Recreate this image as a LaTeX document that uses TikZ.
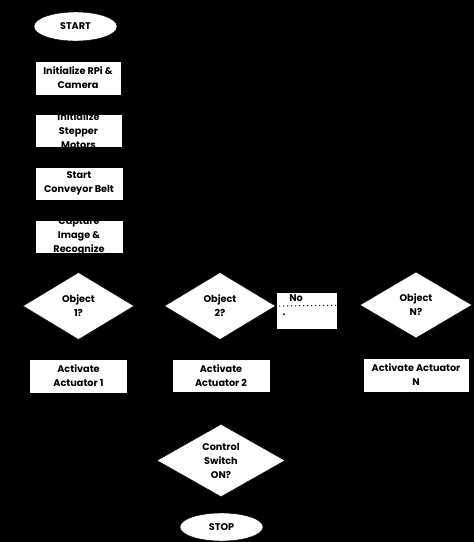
\documentclass[tikz,border=0pt]{standalone}
\usepackage{fontspec}
\setsansfont{Poppins}
\usetikzlibrary{shapes.geometric, positioning, arrows.meta}

\tikzset{
  txt/.style={font=\sffamily\bfseries\fontsize{9.7}{14}\selectfont, align=center, text=black},
  term/.style={ellipse, draw=black, fill=white, minimum width=83pt, minimum height=29pt, inner sep=0pt, txt},
  proc/.style={rectangle, draw=black, fill=white, minimum width=88pt, minimum height=34pt, inner sep=0pt, txt},
  decide/.style={diamond, draw=black, fill=white, inner sep=0pt, minimum width=111pt, minimum height=67pt, txt},
  flow/.style={draw=black, -{Stealth[length=5pt]}},
  dots/.style={draw=black, line width=1.4pt, line cap=round, dash pattern=on 0pt off 4pt},
}

\begin{document}
\begin{tikzpicture}[x=1pt, y=-1pt]
        \fill[black] (0,0) rectangle (474,542);
        \useasboundingbox (0,0) rectangle (474,542);

        % main column
        \node[term] (start) at (75.5,26.5) {START};
        \node[proc, minimum width=86pt] (initcam) at (78,78) {Initialize RPi \&\\Camera};
        \node[proc, minimum width=87pt, minimum height=33pt] (initmot) at (78.5,130.5) {};
        \node[txt] (initmottxt) at (initmot) {Initialize\\Stepper\\Motors};
        \node[proc, minimum height=33pt] (belt) at (79,183.5) {Start\\Conveyor Belt};
        \node[proc, minimum height=33pt] (capture) at (79,236.5) {};
        \node[txt] (capturetxt) at (capture) {Capture\\Image \&\\Recognize};

        % decisions
        \node[decide] (obj1) at (78.5,306) {Object\\1?};
        \node[decide] (obj2) at (220,306) {Object\\2?};
        \node[decide, minimum width=112pt, minimum height=66pt] (objn) at (416,305) {Object\\N?};

        % no box
        \node[proc, minimum width=61pt, minimum height=37pt] (nobox) at (306.5,310.5) {};
        \node[txt] (nolbl) at (296,298) {No};
        \node[txt] (nodot) at (284,315) {.};

        % actuators
        \node[proc, minimum width=98pt] (act1) at (78.5,376) {Activate\\Actuator 1};
        \node[proc, minimum width=98pt, minimum height=33pt] (act2) at (221,375.5) {Activate\\Actuator 2};
        \node[proc, minimum width=106pt] (actn) at (416,375) {Activate Actuator\\N};

        % end
        \node[decide, minimum width=128pt, minimum height=65pt] (ctrl) at (221,460.5) {Control\\Switch\\ON?};
        \node[term, minimum height=28pt] (stop) at (221.5,527) {STOP};

        % connectors
        \draw[flow] (start) -- (initcam);
        \draw[flow] (initcam) -- (initmot);
        \draw[flow] (initmot) -- (belt);
        \draw[flow] (belt) -- (capture);
        \draw[flow] (capture) -- (obj1);
        \draw[flow] (obj1) -- (obj2);
        \draw[dots] (obj2.east) -- (objn.west);
        \draw[flow] (obj1) -- (act1);
        \draw[flow] (obj2) -- (act2);
        \draw[flow] (objn) -- (actn);
        \draw[flow] (act1.south) |- (ctrl.west);
        \draw[flow] (act2) -- (ctrl);
        \draw[flow] (actn.south) |- (ctrl.east);
        \draw[flow] (ctrl) -- (stop);
\end{tikzpicture}
\end{document}
